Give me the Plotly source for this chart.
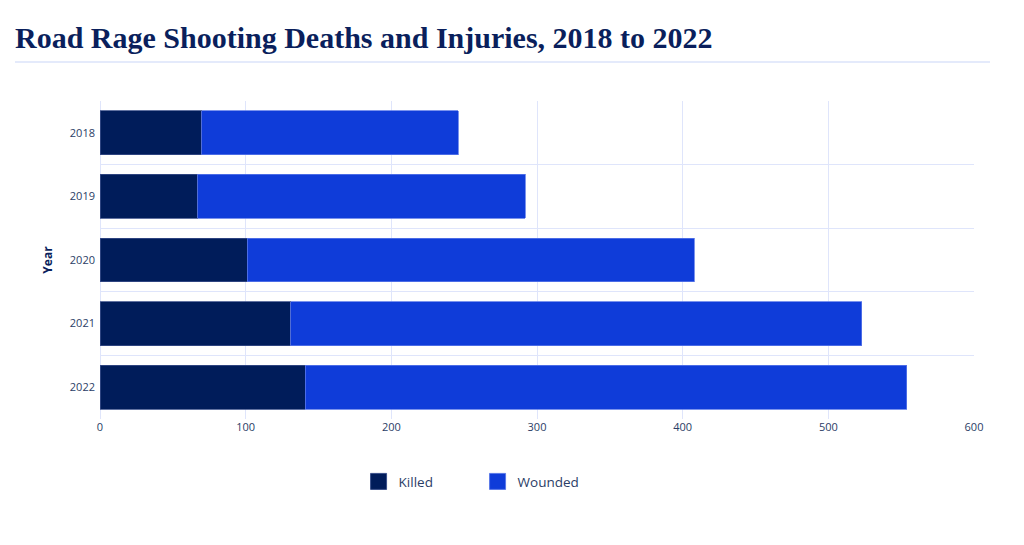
import plotly.graph_objects as go

years = ["2018", "2019", "2020", "2021", "2022"]
killed = [70, 67, 101, 131, 141]
wounded = [176, 225, 307, 392, 413]
series_names = ["Killed", "Wounded"]

KILLED_COLOR = "#001c5a"
WOUNDED_COLOR = "#0f3cd9"
TEXT = "#2b3d66"
NAVY = "#0a1f5c"
GRID = "#dfe5fb"

fig = go.Figure()
fig.add_trace(go.Bar(
    y=years, x=killed, name=series_names[0], orientation="h", showlegend=False,
    marker=dict(color=KILLED_COLOR, line=dict(color="#3a4f8a", width=0.8)),
))
fig.add_trace(go.Bar(
    y=years, x=wounded, name=series_names[1], orientation="h", showlegend=False,
    marker=dict(color=WOUNDED_COLOR, line=dict(color="#5a78e8", width=0.8)),
))
# legend-only entries with larger square swatches
for nm, col, lc in [(series_names[0], KILLED_COLOR, "#3a4f8a"),
                    (series_names[1], WOUNDED_COLOR, "#5a78e8")]:
    fig.add_trace(go.Scatter(
        x=[None], y=[None], mode="markers", name=nm, showlegend=True,
        marker=dict(symbol="square", size=16, color=col, line=dict(color=lc, width=1)),
        hoverinfo="skip",
    ))

fig.update_layout(
    width=1024, height=545,
    barmode="stack", bargap=0.31,
    paper_bgcolor="white", plot_bgcolor="white",
    margin=dict(l=92, r=58, t=93, b=134),
    font=dict(family="Open Sans", color=TEXT, size=11),
    title=dict(
        text="Road Rage Shooting Deaths and Injuries, 2018 to 2022",
        x=7/1024, xref="container", xanchor="left",
        y=1 - 29/545, yref="container", yanchor="middle",
        font=dict(family="Liberation Serif", size=30, color=NAVY, weight="bold"),
    ),
    legend=dict(
        orientation="h", x=0.432, xanchor="center", y=-0.197, yanchor="middle",
        font=dict(size=13.5, color=TEXT), itemsizing="trace", traceorder="normal",
        entrywidth=74, entrywidthmode="pixels",
    ),
    xaxis=dict(
        range=[0, 600], dtick=100, showgrid=True, gridcolor=GRID,
        zeroline=True, zerolinecolor=GRID, zerolinewidth=1,
        tickfont=dict(size=11, color=TEXT), showline=False,
    ),
    yaxis=dict(
        autorange="reversed", type="category", categoryorder="array", categoryarray=years,
        tickson="boundaries",
        showgrid=True, gridcolor=GRID, ticks="", ticklen=0, ticklabelstandoff=4,
        title=dict(text="<b>Year</b>", font=dict(size=12, color=NAVY), standoff=14),
        tickfont=dict(size=11, color=TEXT),
    ),
)

fig.add_shape(type="line", xref="paper", yref="paper",
              x0=(7-92)/874, x1=(982-92)/874,
              y0=(545-134-54)/318, y1=(545-134-54)/318,
              line=dict(color="#c9d5f7", width=1))

fig.write_html("out.html")
